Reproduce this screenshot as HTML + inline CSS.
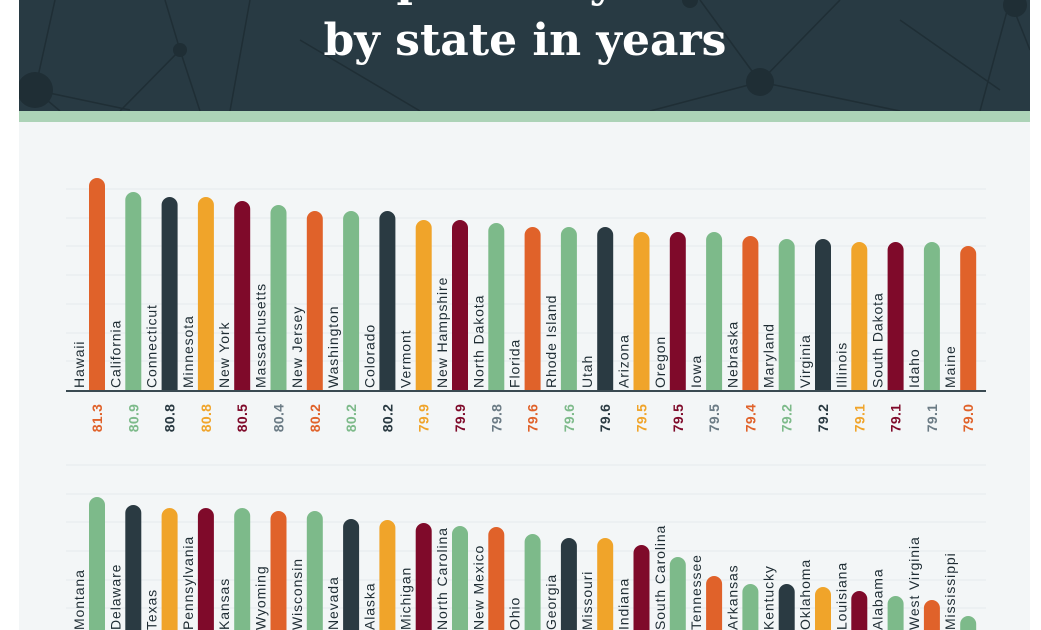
<!DOCTYPE html>
<html><head><meta charset="utf-8"><style>
html,body{margin:0;padding:0;background:#fff;width:1041px;height:630px;overflow:hidden}
svg{display:block}
.l{font-family:"Liberation Sans",sans-serif;font-size:14px;letter-spacing:0.9px;fill:#1f2d34}
.v{font-family:"Liberation Sans",sans-serif;font-size:14px;font-weight:bold;letter-spacing:0.3px}
</style></head><body>
<svg width="1041" height="630" viewBox="0 0 1041 630">
<defs>
<clipPath id="c1"><rect x="0" y="0" width="1041" height="391"/></clipPath>
<clipPath id="c2"><rect x="0" y="430" width="1041" height="200"/></clipPath>
<clipPath id="hd"><rect x="19" y="0" width="1011" height="111"/></clipPath>
</defs>
<rect x="19" y="0" width="1011" height="111" fill="#283a43"/>
<g clip-path="url(#hd)" stroke="#1f2e35" stroke-width="1.5" fill="none">
<path d="M55,0 L35,90 L130,110 M165,0 L180,50 L120,111 M180,50 L200,111 M35,90 L60,111 M250,0 L230,111 M760,82 L700,0 M760,82 L840,0 M760,82 L900,111 M760,82 L650,111 M1010,0 L980,111 M1010,0 L1030,50 M300,40 L420,111 M900,20 L1000,90"/>
</g>
<g clip-path="url(#hd)" fill="#1f2e35">
<circle cx="35" cy="90" r="18"/><circle cx="180" cy="50" r="7"/><circle cx="760" cy="82" r="14"/><circle cx="1015" cy="5" r="12"/><circle cx="690" cy="0" r="8"/>
</g>
<text x="525" y="55" text-anchor="middle" font-family="'DejaVu Serif','Liberation Serif',serif" font-weight="bold" font-size="44" fill="#fff">by state in years</text>
<text x="525" y="-4" text-anchor="middle" font-family="'DejaVu Serif','Liberation Serif',serif" font-weight="bold" font-size="44" fill="#fff">Life expectancy at birth</text>
<rect x="19" y="111" width="1011" height="11" fill="#acd3b7"/>
<rect x="19" y="122" width="1011" height="508" fill="#f3f6f7"/>
<g stroke="#e6ebed" stroke-width="1">
<line x1="66" x2="986" y1="189" y2="189"/><line x1="66" x2="986" y1="218" y2="218"/><line x1="66" x2="986" y1="246" y2="246"/><line x1="66" x2="986" y1="275" y2="275"/><line x1="66" x2="986" y1="304" y2="304"/><line x1="66" x2="986" y1="333" y2="333"/><line x1="66" x2="986" y1="361" y2="361"/>
<line x1="66" x2="986" y1="465" y2="465"/><line x1="66" x2="986" y1="494" y2="494"/><line x1="66" x2="986" y1="522" y2="522"/><line x1="66" x2="986" y1="551" y2="551"/><line x1="66" x2="986" y1="580" y2="580"/><line x1="66" x2="986" y1="608" y2="608"/>
</g>
<g clip-path="url(#c1)">
<g transform="translate(97,0)"><rect x="-8" y="178" width="16" height="240" rx="8" fill="#e0622a"/><text class="l" transform="translate(-13,388) rotate(-90)">Hawaii</text></g>
<g transform="translate(133.3,0)"><rect x="-8" y="192" width="16" height="240" rx="8" fill="#7dba8a"/><text class="l" transform="translate(-13,388) rotate(-90)">California</text></g>
<g transform="translate(169.6,0)"><rect x="-8" y="197" width="16" height="240" rx="8" fill="#2a3a42"/><text class="l" transform="translate(-13,388) rotate(-90)">Connecticut</text></g>
<g transform="translate(205.9,0)"><rect x="-8" y="197" width="16" height="240" rx="8" fill="#f0a42a"/><text class="l" transform="translate(-13,388) rotate(-90)">Minnesota</text></g>
<g transform="translate(242.2,0)"><rect x="-8" y="201" width="16" height="240" rx="8" fill="#7f0a2a"/><text class="l" transform="translate(-13,388) rotate(-90)">New York</text></g>
<g transform="translate(278.5,0)"><rect x="-8" y="205" width="16" height="240" rx="8" fill="#7dba8a"/><text class="l" transform="translate(-13,388) rotate(-90)">Massachusetts</text></g>
<g transform="translate(314.8,0)"><rect x="-8" y="211" width="16" height="240" rx="8" fill="#e0622a"/><text class="l" transform="translate(-13,388) rotate(-90)">New Jersey</text></g>
<g transform="translate(351.1,0)"><rect x="-8" y="211" width="16" height="240" rx="8" fill="#7dba8a"/><text class="l" transform="translate(-13,388) rotate(-90)">Washington</text></g>
<g transform="translate(387.4,0)"><rect x="-8" y="211" width="16" height="240" rx="8" fill="#2a3a42"/><text class="l" transform="translate(-13,388) rotate(-90)">Colorado</text></g>
<g transform="translate(423.7,0)"><rect x="-8" y="220" width="16" height="240" rx="8" fill="#f0a42a"/><text class="l" transform="translate(-13,388) rotate(-90)">Vermont</text></g>
<g transform="translate(460,0)"><rect x="-8" y="220" width="16" height="240" rx="8" fill="#7f0a2a"/><text class="l" transform="translate(-13,388) rotate(-90)">New Hampshire</text></g>
<g transform="translate(496.3,0)"><rect x="-8" y="223" width="16" height="240" rx="8" fill="#7dba8a"/><text class="l" transform="translate(-13,388) rotate(-90)">North Dakota</text></g>
<g transform="translate(532.6,0)"><rect x="-8" y="227" width="16" height="240" rx="8" fill="#e0622a"/><text class="l" transform="translate(-13,388) rotate(-90)">Florida</text></g>
<g transform="translate(568.9,0)"><rect x="-8" y="227" width="16" height="240" rx="8" fill="#7dba8a"/><text class="l" transform="translate(-13,388) rotate(-90)">Rhode Island</text></g>
<g transform="translate(605.2,0)"><rect x="-8" y="227" width="16" height="240" rx="8" fill="#2a3a42"/><text class="l" transform="translate(-13,388) rotate(-90)">Utah</text></g>
<g transform="translate(641.5,0)"><rect x="-8" y="232" width="16" height="240" rx="8" fill="#f0a42a"/><text class="l" transform="translate(-13,388) rotate(-90)">Arizona</text></g>
<g transform="translate(677.8,0)"><rect x="-8" y="232" width="16" height="240" rx="8" fill="#7f0a2a"/><text class="l" transform="translate(-13,388) rotate(-90)">Oregon</text></g>
<g transform="translate(714.1,0)"><rect x="-8" y="232" width="16" height="240" rx="8" fill="#7dba8a"/><text class="l" transform="translate(-13,388) rotate(-90)">Iowa</text></g>
<g transform="translate(750.4,0)"><rect x="-8" y="236" width="16" height="240" rx="8" fill="#e0622a"/><text class="l" transform="translate(-13,388) rotate(-90)">Nebraska</text></g>
<g transform="translate(786.7,0)"><rect x="-8" y="239" width="16" height="240" rx="8" fill="#7dba8a"/><text class="l" transform="translate(-13,388) rotate(-90)">Maryland</text></g>
<g transform="translate(823,0)"><rect x="-8" y="239" width="16" height="240" rx="8" fill="#2a3a42"/><text class="l" transform="translate(-13,388) rotate(-90)">Virginia</text></g>
<g transform="translate(859.3,0)"><rect x="-8" y="242" width="16" height="240" rx="8" fill="#f0a42a"/><text class="l" transform="translate(-13,388) rotate(-90)">Illinois</text></g>
<g transform="translate(895.6,0)"><rect x="-8" y="242" width="16" height="240" rx="8" fill="#7f0a2a"/><text class="l" transform="translate(-13,388) rotate(-90)">South Dakota</text></g>
<g transform="translate(931.9,0)"><rect x="-8" y="242" width="16" height="240" rx="8" fill="#7dba8a"/><text class="l" transform="translate(-13,388) rotate(-90)">Idaho</text></g>
<g transform="translate(968.2,0)"><rect x="-8" y="246" width="16" height="240" rx="8" fill="#e0622a"/><text class="l" transform="translate(-13,388) rotate(-90)">Maine</text></g>
</g>
<line x1="66" x2="986" y1="391" y2="391" stroke="#3a4a52" stroke-width="2"/>
<g text-anchor="middle">
<text class="v" fill="#e0622a" transform="translate(102,418) rotate(-90)">81.3</text>
<text class="v" fill="#7dba8a" transform="translate(138.3,418) rotate(-90)">80.9</text>
<text class="v" fill="#2a3a42" transform="translate(174.6,418) rotate(-90)">80.8</text>
<text class="v" fill="#f0a42a" transform="translate(210.9,418) rotate(-90)">80.8</text>
<text class="v" fill="#7f0a2a" transform="translate(247.2,418) rotate(-90)">80.5</text>
<text class="v" fill="#6b7b85" transform="translate(283.5,418) rotate(-90)">80.4</text>
<text class="v" fill="#e0622a" transform="translate(319.8,418) rotate(-90)">80.2</text>
<text class="v" fill="#7dba8a" transform="translate(356.1,418) rotate(-90)">80.2</text>
<text class="v" fill="#2a3a42" transform="translate(392.4,418) rotate(-90)">80.2</text>
<text class="v" fill="#f0a42a" transform="translate(428.7,418) rotate(-90)">79.9</text>
<text class="v" fill="#7f0a2a" transform="translate(465,418) rotate(-90)">79.9</text>
<text class="v" fill="#6b7b85" transform="translate(501.3,418) rotate(-90)">79.8</text>
<text class="v" fill="#e0622a" transform="translate(537.6,418) rotate(-90)">79.6</text>
<text class="v" fill="#7dba8a" transform="translate(573.9,418) rotate(-90)">79.6</text>
<text class="v" fill="#2a3a42" transform="translate(610.2,418) rotate(-90)">79.6</text>
<text class="v" fill="#f0a42a" transform="translate(646.5,418) rotate(-90)">79.5</text>
<text class="v" fill="#7f0a2a" transform="translate(682.8,418) rotate(-90)">79.5</text>
<text class="v" fill="#6b7b85" transform="translate(719.1,418) rotate(-90)">79.5</text>
<text class="v" fill="#e0622a" transform="translate(755.4,418) rotate(-90)">79.4</text>
<text class="v" fill="#7dba8a" transform="translate(791.7,418) rotate(-90)">79.2</text>
<text class="v" fill="#2a3a42" transform="translate(828,418) rotate(-90)">79.2</text>
<text class="v" fill="#f0a42a" transform="translate(864.3,418) rotate(-90)">79.1</text>
<text class="v" fill="#7f0a2a" transform="translate(900.6,418) rotate(-90)">79.1</text>
<text class="v" fill="#6b7b85" transform="translate(936.9,418) rotate(-90)">79.1</text>
<text class="v" fill="#e0622a" transform="translate(973.2,418) rotate(-90)">79.0</text>
</g>
<g clip-path="url(#c2)">
<g transform="translate(97,0)"><rect x="-8" y="497" width="16" height="140" rx="8" fill="#7dba8a"/><text class="l" transform="translate(-13,630) rotate(-90)">Montana</text></g>
<g transform="translate(133.3,0)"><rect x="-8" y="505" width="16" height="140" rx="8" fill="#2a3a42"/><text class="l" transform="translate(-13,630) rotate(-90)">Delaware</text></g>
<g transform="translate(169.6,0)"><rect x="-8" y="508" width="16" height="140" rx="8" fill="#f0a42a"/><text class="l" transform="translate(-13,630) rotate(-90)">Texas</text></g>
<g transform="translate(205.9,0)"><rect x="-8" y="508" width="16" height="140" rx="8" fill="#7f0a2a"/><text class="l" transform="translate(-13,630) rotate(-90)">Pennsylvania</text></g>
<g transform="translate(242.2,0)"><rect x="-8" y="508" width="16" height="140" rx="8" fill="#7dba8a"/><text class="l" transform="translate(-13,630) rotate(-90)">Kansas</text></g>
<g transform="translate(278.5,0)"><rect x="-8" y="511" width="16" height="140" rx="8" fill="#e0622a"/><text class="l" transform="translate(-13,630) rotate(-90)">Wyoming</text></g>
<g transform="translate(314.8,0)"><rect x="-8" y="511" width="16" height="140" rx="8" fill="#7dba8a"/><text class="l" transform="translate(-13,630) rotate(-90)">Wisconsin</text></g>
<g transform="translate(351.1,0)"><rect x="-8" y="519" width="16" height="140" rx="8" fill="#2a3a42"/><text class="l" transform="translate(-13,630) rotate(-90)">Nevada</text></g>
<g transform="translate(387.4,0)"><rect x="-8" y="520" width="16" height="140" rx="8" fill="#f0a42a"/><text class="l" transform="translate(-13,630) rotate(-90)">Alaska</text></g>
<g transform="translate(423.7,0)"><rect x="-8" y="523" width="16" height="140" rx="8" fill="#7f0a2a"/><text class="l" transform="translate(-13,630) rotate(-90)">Michigan</text></g>
<g transform="translate(460,0)"><rect x="-8" y="526" width="16" height="140" rx="8" fill="#7dba8a"/><text class="l" transform="translate(-13,630) rotate(-90)">North Carolina</text></g>
<g transform="translate(496.3,0)"><rect x="-8" y="527" width="16" height="140" rx="8" fill="#e0622a"/><text class="l" transform="translate(-13,630) rotate(-90)">New Mexico</text></g>
<g transform="translate(532.6,0)"><rect x="-8" y="534" width="16" height="140" rx="8" fill="#7dba8a"/><text class="l" transform="translate(-13,630) rotate(-90)">Ohio</text></g>
<g transform="translate(568.9,0)"><rect x="-8" y="538" width="16" height="140" rx="8" fill="#2a3a42"/><text class="l" transform="translate(-13,630) rotate(-90)">Georgia</text></g>
<g transform="translate(605.2,0)"><rect x="-8" y="538" width="16" height="140" rx="8" fill="#f0a42a"/><text class="l" transform="translate(-13,630) rotate(-90)">Missouri</text></g>
<g transform="translate(641.5,0)"><rect x="-8" y="545" width="16" height="140" rx="8" fill="#7f0a2a"/><text class="l" transform="translate(-13,630) rotate(-90)">Indiana</text></g>
<g transform="translate(677.8,0)"><rect x="-8" y="557" width="16" height="140" rx="8" fill="#7dba8a"/><text class="l" transform="translate(-13,630) rotate(-90)">South Carolina</text></g>
<g transform="translate(714.1,0)"><rect x="-8" y="576" width="16" height="140" rx="8" fill="#e0622a"/><text class="l" transform="translate(-13,630) rotate(-90)">Tennessee</text></g>
<g transform="translate(750.4,0)"><rect x="-8" y="584" width="16" height="140" rx="8" fill="#7dba8a"/><text class="l" transform="translate(-13,630) rotate(-90)">Arkansas</text></g>
<g transform="translate(786.7,0)"><rect x="-8" y="584" width="16" height="140" rx="8" fill="#2a3a42"/><text class="l" transform="translate(-13,630) rotate(-90)">Kentucky</text></g>
<g transform="translate(823,0)"><rect x="-8" y="587" width="16" height="140" rx="8" fill="#f0a42a"/><text class="l" transform="translate(-13,630) rotate(-90)">Oklahoma</text></g>
<g transform="translate(859.3,0)"><rect x="-8" y="591" width="16" height="140" rx="8" fill="#7f0a2a"/><text class="l" transform="translate(-13,630) rotate(-90)">Louisiana</text></g>
<g transform="translate(895.6,0)"><rect x="-8" y="596" width="16" height="140" rx="8" fill="#7dba8a"/><text class="l" transform="translate(-13,630) rotate(-90)">Alabama</text></g>
<g transform="translate(931.9,0)"><rect x="-8" y="600" width="16" height="140" rx="8" fill="#e0622a"/><text class="l" transform="translate(-13,630) rotate(-90)">West Virginia</text></g>
<g transform="translate(968.2,0)"><rect x="-8" y="616" width="16" height="140" rx="8" fill="#7dba8a"/><text class="l" transform="translate(-13,630) rotate(-90)">Mississippi</text></g>
</g>
</svg>
</body></html>
